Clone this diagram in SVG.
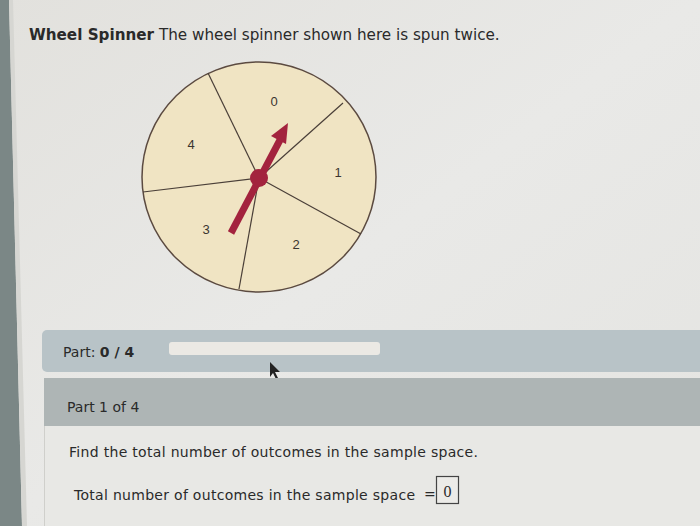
<svg xmlns="http://www.w3.org/2000/svg" width="700" height="526" viewBox="0 0 700 526">
<defs>
<linearGradient id="bg" x1="0" y1="0" x2="1" y2="1">
<stop offset="0" stop-color="#e2e1dd"/>
<stop offset="0.5" stop-color="#e9e9e7"/>
<stop offset="1" stop-color="#e4e4e1"/>
</linearGradient>
<style>
.t{font-family:"DejaVu Sans",Verdana,sans-serif;fill:#2a2a2a}
.w{font-family:"Liberation Sans",Arial,sans-serif;font-size:13px;fill:#3a3530;text-anchor:middle}
.div{stroke:#4a3f38;stroke-width:1.2}
</style>
</defs>
<rect x="0" y="0" width="700" height="526" fill="url(#bg)"/>
<polygon points="0,0 9,0 22,526 0,526" fill="#7b8786"/>
<polygon points="9,0 13,0 27,526 22,526" fill="#d6d6d2"/>
<text class="t" x="29" y="40" font-size="15.2"><tspan font-weight="bold">Wheel Spinner</tspan> The wheel spinner shown here is spun twice.</text>
<g id="wheel">
<ellipse cx="259" cy="177" rx="117" ry="115" fill="#f0e4c3" stroke="#5b4a40" stroke-width="1.5"/>
<line class="div" x1="259" y1="178" x2="208" y2="73"/>
<line class="div" x1="259" y1="178" x2="343" y2="103"/>
<line class="div" x1="259" y1="178" x2="361" y2="234"/>
<line class="div" x1="259" y1="178" x2="239" y2="289"/>
<line class="div" x1="259" y1="178" x2="143" y2="192"/>
<text class="w" x="274" y="106">0</text>
<text class="w" x="338" y="177">1</text>
<text class="w" x="296" y="249">2</text>
<text class="w" x="206" y="234">3</text>
<text class="w" x="191" y="149">4</text>
<line x1="231" y1="233" x2="280" y2="140" stroke="#a3233e" stroke-width="7"/>
<polygon points="288,123 286,144 271,136" fill="#a3233e"/>
<circle cx="259" cy="178" r="9" fill="#a3233e"/>
</g>
<g id="partbar">
<rect x="42" y="330" width="680" height="42" rx="5" fill="#b8c3c7"/>
<rect x="169" y="342" width="211" height="13" rx="3" fill="#ebe9e4"/>
<text class="t" x="63" y="357" font-size="14">Part: <tspan font-weight="bold">0 / 4</tspan></text>
</g>
<polygon points="270,362 270,377 273,373 276,379 278,378 275,372 280,372" fill="#222"/>
<g id="part1">
<rect x="44" y="378" width="660" height="48" fill="#aeb5b5"/>
<text class="t" x="67" y="412" font-size="14">Part 1 of 4</text>
</g>
<g id="content">
<rect x="44" y="426" width="660" height="100" fill="#e8e8e5"/>
<line x1="44.5" y1="426" x2="44.5" y2="526" stroke="#cfcfcb"/>
<text class="t" x="69" y="457" font-size="14" textLength="409">Find the total number of outcomes in the sample space.</text>
<text class="t" x="74" y="500" font-size="14" textLength="341">Total number of outcomes in the sample space</text>
<text class="t" x="424" y="499" font-size="14">=</text>
<rect x="436.5" y="476.5" width="22" height="27" fill="#ecebe8" stroke="#444" stroke-width="1.2"/>
<text x="447.5" y="497" font-family="Liberation Serif,serif" font-size="16" text-anchor="middle" fill="#2a2a2a">0</text>
</g>
</svg>
